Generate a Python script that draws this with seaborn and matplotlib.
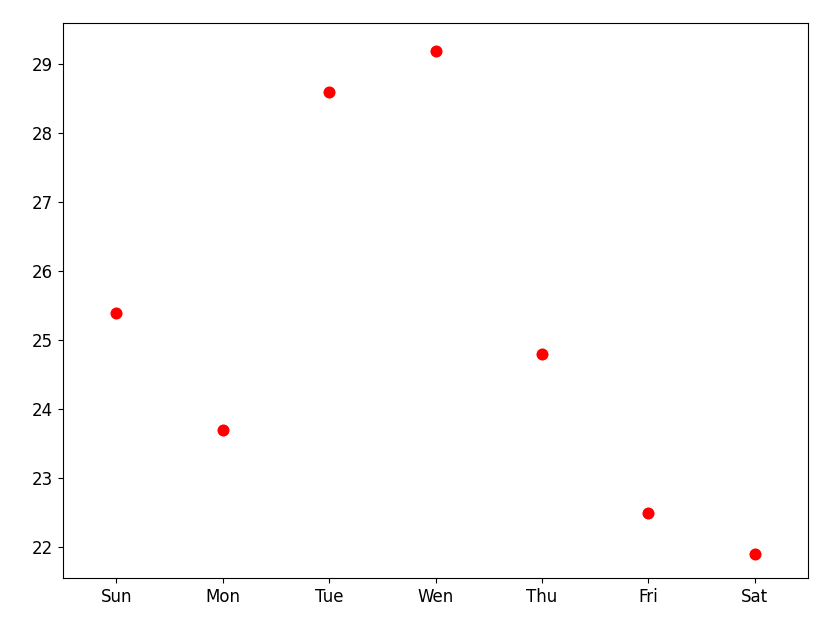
import matplotlib
matplotlib.use("Agg")
import matplotlib.pyplot as plt
import seaborn as sns
import pandas as pd

days = ["Sun", "Mon", "Tue", "Wen", "Thu", "Fri", "Sat"]
temps = [25.4, 23.7, 28.6, 29.2, 24.8, 22.5, 21.9]

df = pd.DataFrame({"day": days, "temp": temps})
fig = plt.figure(figsize=(8.3, 6.29), dpi=100)
ax = fig.add_axes([63/830, 1-578/629, (808-63)/830, (578-23)/629])
sns.scatterplot(data=df, x="day", y="temp", color="red", s=90, edgecolor="white", linewidth=0.8, ax=ax)
ax.set_xlabel("")
ax.set_ylabel("")
ax.set_xlim(-0.5, 6.5)
ax.set_ylim(21.55, 29.6)
ax.tick_params(labelsize=12)
fig.savefig("out.png", dpi=100)
